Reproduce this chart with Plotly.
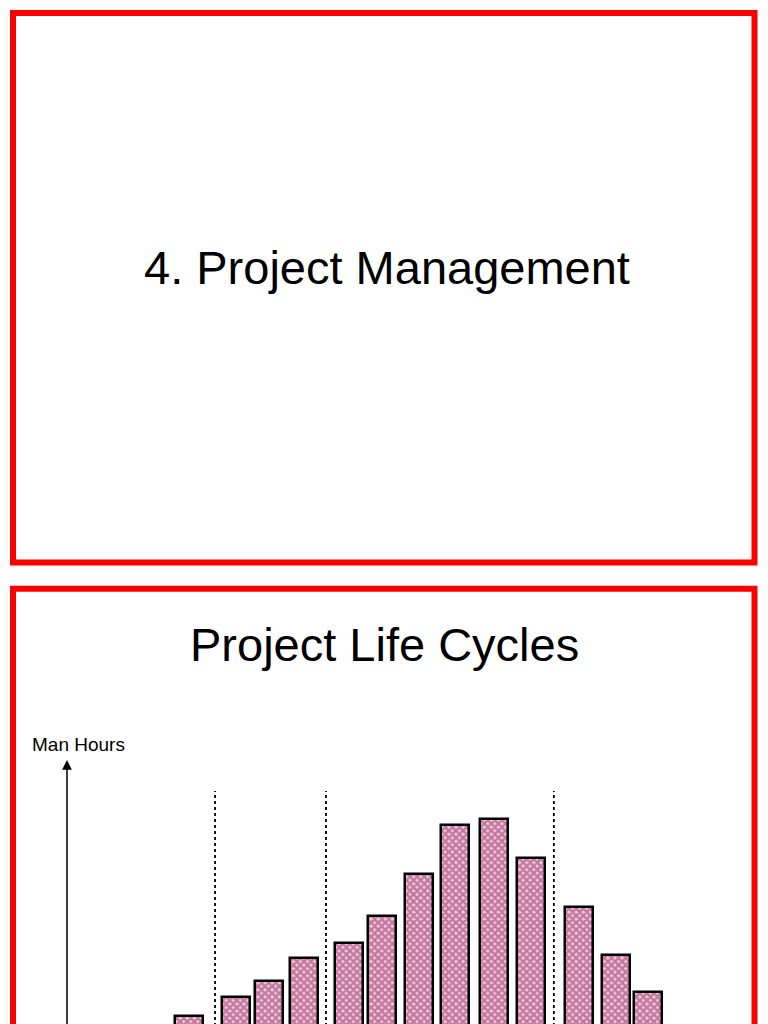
"""
Two stacked slides: "4. Project Management" and "Project Life Cycles"
(man hours per period, split into phases by dotted lines).
"""

import plotly.graph_objects as go

FONT = "Arial, Liberation Sans, sans-serif"
RED = "#FF0000"
BAR_BG = "#ecc8da"
BAR_FG = "#9a2262"

W, H = 768, 1024

# ── Data ──────────────────────────────────────────────────────────────────────
slide1_title = "4. Project Management"
slide2_title = "Project Life Cycles"
y_label = "Man Hours"

# time of each period (x axis, arbitrary time units from the y axis)
period_time = [3.49, 4.83, 5.77, 6.76, 8.06, 9.00, 10.06, 11.09, 12.21, 13.26, 14.63, 15.69, 16.61]
# man hours in each period
man_hours = [140, 235, 315, 430, 505, 640, 850, 1095, 1125, 930, 685, 445, 260]
# phase boundaries (dotted lines)
phase_bounds = [4.23, 7.40, 13.91]


def px(x):
    return x / W


def py(y):
    return 1 - y / H


fig = go.Figure(go.Bar(
    x=period_time,
    y=man_hours,
    width=0.8,
    marker=dict(
        color=BAR_BG,
        line=dict(color="black", width=2.5),
        pattern=dict(shape="x", fgcolor=BAR_FG, bgcolor=BAR_BG,
                     size=5, solidity=0.7),
    ),
    hoverinfo="x+y",
))

Y_TOP = 1420
Y_BOT = 100
LINE_TOP = 1265

shapes = [
    # slide frames
    dict(type="rect", xref="paper", yref="paper",
         x0=px(13), x1=px(754.5), y0=py(562.5), y1=py(13),
         line=dict(color=RED, width=6)),
    dict(type="rect", xref="paper", yref="paper",
         x0=px(13), x1=px(754.5), y0=py(1200), y1=py(588.7),
         line=dict(color=RED, width=6)),
]
for b in phase_bounds:
    shapes.append(dict(type="line", xref="x", yref="y",
                       x0=b, x1=b, y0=0, y1=LINE_TOP,
                       line=dict(color="black", width=1.8, dash="dot")))

annotations = [
    dict(text=slide1_title, xref="paper", yref="paper", x=px(387), y=py(267),
         showarrow=False, font=dict(family=FONT, size=47, color="black"),
         xanchor="center", yanchor="middle"),
    dict(text=slide2_title, xref="paper", yref="paper", x=px(384), y=py(644),
         showarrow=False, font=dict(family=FONT, size=47, color="black"),
         xanchor="center", yanchor="middle"),
    dict(text=y_label, xref="paper", yref="paper", x=px(30), y=py(744),
         showarrow=False, font=dict(family=FONT, size=19, color="black"),
         xanchor="left", yanchor="middle"),
    # y axis with arrow
    dict(text="", xref="x", yref="y", x=0, y=Y_TOP,
         axref="x", ayref="y", ax=0, ay=0,
         showarrow=True, arrowhead=2, arrowsize=1.3, arrowwidth=1.5,
         arrowcolor="black", standoff=0),
]

fig.update_layout(
    width=W,
    height=H,
    margin=dict(l=0, r=0, t=0, b=0),
    paper_bgcolor="white",
    plot_bgcolor="white",
    showlegend=False,
    bargap=0,
    xaxis=dict(domain=[px(67), px(697)], range=[0, 18],
               showgrid=False, zeroline=False, showticklabels=False, showline=False),
    yaxis=dict(domain=[0, py(760)], range=[Y_BOT, Y_TOP],
               showgrid=False, zeroline=False, showticklabels=False, showline=False),
    shapes=shapes,
    annotations=annotations,
)

# page body has an 8px default margin; drop it so the figure fills the window
fig.write_html("out.html", config={"displayModeBar": False},
               post_script="document.body.style.margin='0';")
